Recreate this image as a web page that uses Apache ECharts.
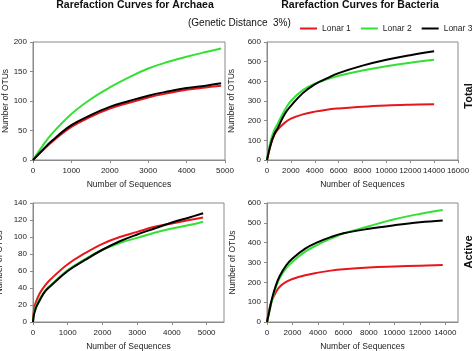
<!DOCTYPE html>
<html>
<head>
<meta charset="utf-8">
<script src="https://cdn.jsdelivr.net/npm/echarts@6/dist/echarts.min.js"></script>
<style>
  html, body { margin: 0; padding: 0; background: #fff; }
  #chart { width: 474px; height: 351px; }
</style>
</head>
<body>
<div id="chart"></div>
<script>
// Archaea, total
var archTotalX = [0, 250, 500, 1000, 1500, 2000, 2500, 3000, 3500, 4000, 4500, 4900];
var archTotalL1 = [0, 16, 31, 56, 73, 87, 97, 106, 113, 119, 123, 126];
var archTotalL2 = [0, 24, 45, 78, 103, 123, 140, 155, 166, 175, 183, 189];
var archTotalL3 = [0, 17, 33, 59, 76, 90, 100, 109, 116, 122, 126, 130];

// Bacteria, total
var bactTotalX = [0, 300, 600, 900, 1500, 2000, 3000, 4000, 5000, 6000, 8000, 10000, 12000, 14000];
var bactTotalL1 = [0, 75, 125, 155, 190, 210, 232, 246, 256, 262, 271, 277, 281, 284];
var bactTotalL2 = [0, 95, 150, 185, 255, 300, 355, 388, 410, 428, 455, 477, 495, 510];
var bactTotalL3 = [0, 78, 130, 163, 235, 275, 340, 385, 415, 442, 480, 510, 533, 553];

// Archaea, active
var archActX = [0, 20, 50, 100, 200, 350, 500, 1000, 1500, 2000, 2500, 3000, 3500, 4000, 4500, 4900];
var archActL1 = [0, 12, 19, 25, 34, 43, 50, 68, 81, 92, 100, 106, 112, 116, 120, 123];
var archActL2 = [0, 8, 14, 20, 28, 37, 43, 61, 74, 85, 93, 99, 105, 110, 114, 118];
var archActL3 = [0, 7, 12, 18, 26, 36, 42, 60, 73, 85, 95, 103, 110, 117, 123, 128];

// Bacteria, active
var bactActX = [0, 200, 400, 700, 1000, 1500, 2000, 3000, 4000, 5000, 6000, 8000, 10000, 12000, 13800];
var bactActL1 = [0, 70, 111, 150, 178, 202, 217, 236, 249, 259, 266, 275, 280, 284, 287];
var bactActL2 = [0, 55, 110, 175, 222, 270, 304, 355, 390, 420, 446, 483, 518, 545, 565];
var bactActL3 = [0, 60, 120, 185, 232, 285, 320, 370, 403, 428, 447, 470, 488, 503, 512];

var names = ['Lonar 1', 'Lonar 2', 'Lonar 3'];
var colors = ['#e8161c', '#33e033', '#000000'];

var font = 'Liberation Sans, Arial, sans-serif';
var gray = '#8a8a8a';

function zip(xs, ys) {
    let out = [];
    for (let i = 0; i < xs.length; i++) {
        out.push([xs[i], ys[i]]);
    }
    return out;
}

function plain(v) {
    return String(v);
}

function xAxis(idx, max, interval, hideMax) {
    return {
        type: 'value', gridIndex: idx, min: 0, max: max, interval: interval,
        name: 'Number of Sequences', nameLocation: 'middle', nameGap: 20,
        nameTextStyle: {fontFamily: font, fontSize: 8.5, color: '#222'},
        axisLine: {show: true, lineStyle: {color: gray}},
        axisTick: {show: true, length: 3, lineStyle: {color: gray}},
        axisLabel: {fontFamily: font, fontSize: 8, color: '#222', margin: 7, showMaxLabel: !hideMax, formatter: plain},
        splitLine: {show: false}
    };
}

function yAxis(idx, max, interval, gap) {
    return {
        type: 'value', gridIndex: idx, min: 0, max: max, interval: interval,
        name: 'Number of OTUs', nameLocation: 'middle', nameGap: gap,
        nameTextStyle: {fontFamily: font, fontSize: 8.5, color: '#222'},
        axisLine: {show: true, lineStyle: {color: gray}},
        axisTick: {show: true, length: 3, lineStyle: {color: gray}},
        axisLabel: {fontFamily: font, fontSize: 8, color: '#222', margin: 6, formatter: plain},
        splitLine: {show: false}
    };
}

let panels = [
    {x: archTotalX, ys: [archTotalL1, archTotalL2, archTotalL3]},
    {x: bactTotalX, ys: [bactTotalL1, bactTotalL2, bactTotalL3]},
    {x: archActX, ys: [archActL1, archActL2, archActL3]},
    {x: bactActX, ys: [bactActL1, bactActL2, bactActL3]}
];

let series = [];
for (let p = 0; p < panels.length; p++) {
    for (let s = 0; s < 3; s++) {
        series.push({
            name: names[s], type: 'line', xAxisIndex: p, yAxisIndex: p,
            data: zip(panels[p].x, panels[p].ys[s]),
            smooth: 0.4, showSymbol: false, symbol: 'none',
            lineStyle: {color: colors[s], width: 2},
            itemStyle: {color: colors[s]},
            silent: true, animation: false
        });
    }
}

let gridStyle = {show: true, borderColor: gray, borderWidth: 1, outerBoundsMode: 'none', containLabel: false};

let option = {
    animation: false,
    grid: [
        Object.assign({left: 33, top: 42, width: 192, height: 118}, gridStyle),
        Object.assign({left: 267, top: 42, width: 191, height: 118}, gridStyle),
        Object.assign({left: 33, top: 203, width: 191, height: 119}, gridStyle),
        Object.assign({left: 267, top: 203, width: 191, height: 119}, gridStyle)
    ],
    xAxis: [
        xAxis(0, 5000, 1000, false),
        xAxis(1, 16000, 2000, false),
        xAxis(2, 5500, 1000, true),
        xAxis(3, 15000, 2000, true)
    ],
    yAxis: [
        yAxis(0, 200, 50, 23),
        yAxis(1, 600, 100, 31),
        yAxis(2, 140, 20, 29),
        yAxis(3, 600, 100, 30)
    ],
    legend: {
        data: names, left: 295, top: 19, width: 400, orient: 'horizontal', selectedMode: false,
        icon: 'rect', itemWidth: 17, itemHeight: 2, itemGap: 10,
        textStyle: {fontFamily: font, fontSize: 8.5, color: '#222'}
    },
    graphic: [
        {type: 'text', x: 135, y: 5, style: {text: 'Rarefaction Curves for Archaea', font: 'bold 10.5px ' + font, fill: '#111', align: 'center', verticalAlign: 'middle'}},
        {type: 'text', x: 360, y: 5, style: {text: 'Rarefaction Curves for Bacteria', font: 'bold 10.5px ' + font, fill: '#111', align: 'center', verticalAlign: 'middle'}},
        {type: 'text', x: 188, y: 23.5, style: {text: '(Genetic Distance  3%)', font: '10px ' + font, fill: '#111', align: 'left', verticalAlign: 'middle'}},
        {type: 'text', x: 469, y: 96, rotation: Math.PI / 2, style: {text: 'Total', font: 'bold 11px ' + font, fill: '#111', align: 'center', verticalAlign: 'middle'}},
        {type: 'text', x: 469, y: 252, rotation: Math.PI / 2, style: {text: 'Active', font: 'bold 11px ' + font, fill: '#111', align: 'center', verticalAlign: 'middle'}}
    ],
    series: series
};

let chart = echarts.init(document.getElementById('chart'), null, {renderer: 'canvas'});
chart.setOption(option);
</script>
</body>
</html>
